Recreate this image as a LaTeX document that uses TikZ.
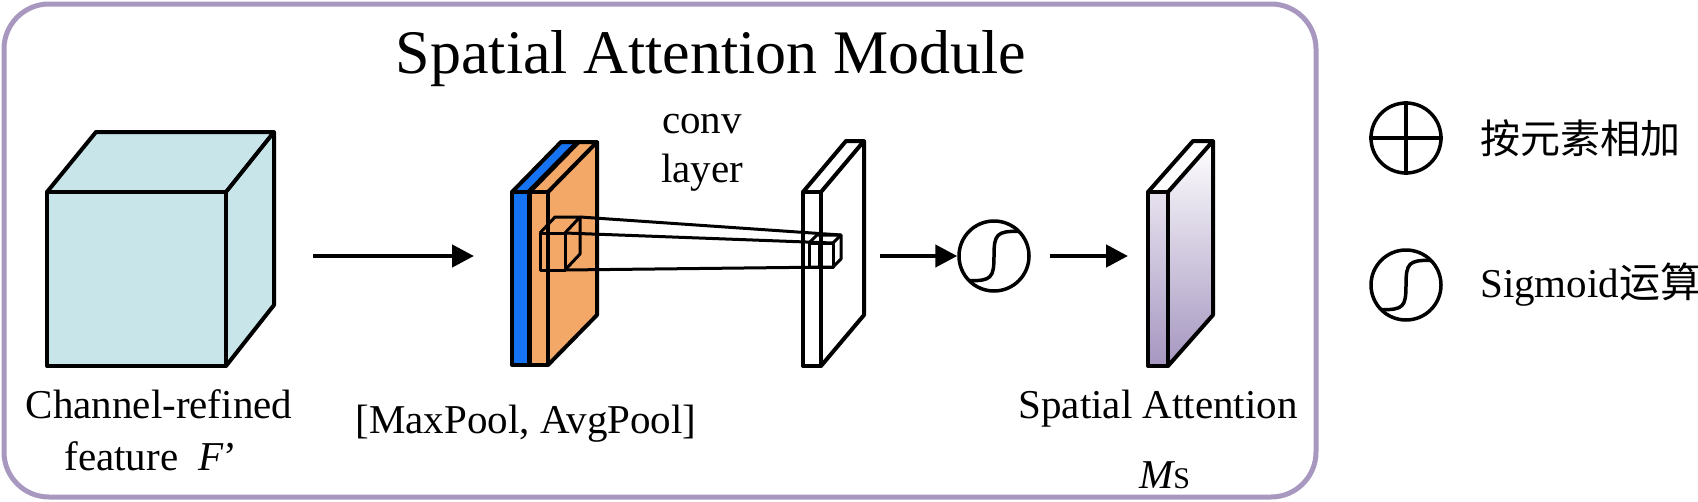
\documentclass[tikz,border=0pt]{standalone}
\usepackage{fontspec}
\setmainfont{Liberation Serif}
\newfontfamily\cjk{Noto Sans CJK SC}
\definecolor{cubefill}{HTML}{C8E6EA}
\definecolor{poolblue}{HTML}{1673F2}
\definecolor{poolorange}{HTML}{F3A867}
\definecolor{frame}{HTML}{A898C0}
\definecolor{attn}{HTML}{A596C0}
\definecolor{attnlight}{HTML}{D6CEE4}
\tikzset{
  edge/.style={line width=4pt, line join=round},
  thin3d/.style={line width=3pt, line join=round},
  flow/.style={line width=4.5pt, -{Triangle[length=22pt,width=22pt]}},
  lbl/.style={font=\fontsize{41}{46}\selectfont, inner sep=0pt},
  sig/.style={circle, draw, line width=3.5pt, minimum size=70pt, inner sep=0pt},
}
\usetikzlibrary{arrows.meta}
\begin{document}
\begin{tikzpicture}[x=1pt,y=-1pt]
\useasboundingbox (0,0) rectangle (1698,501);
% frame
\draw[frame, line width=5pt, rounded corners=45pt] (4,4) rectangle (1316,497);
\node[lbl, font=\fontsize{62}{66}\selectfont, anchor=base] (title) at (711,73) {Spatial Attention Module};
% cube
\fill[cubefill] (47,192) -- (96,132) -- (274,132) -- (274,305) -- (226,366) -- (47,366) -- cycle;
\draw[edge] (47,192) rectangle (226,366);
\draw[edge] (47,192) -- (96,132) -- (274,132) -- (226,192);
\draw[edge] (274,132) -- (274,305) -- (226,366);
\node[lbl, anchor=base] (cl1) at (159,418) {Channel-refined};
\node[lbl, anchor=base] (cl2) at (151,470) {feature\ \ {\itshape F}'};
% arrow 1
\coordinate (a1s) at (313,256); \coordinate (a1e) at (474,256);
\draw[flow] (a1s) -- (a1e);
% pooled slab
\fill[poolblue] (512,192) rectangle (528,365);
\fill[poolblue] (512,192) -- (561,142) -- (577,142) -- (528,192) -- cycle;
\fill[poolorange] (528,192) rectangle (548,365);
\fill[poolorange] (528,192) -- (577,142) -- (597,142) -- (597,315) -- (548,365) -- cycle;
\draw[edge] (512,192) rectangle (548,365);
\draw[line width=5pt] (529,192) -- (529,365);
\draw[line width=5pt] (529,192) -- (578,142);
\draw[edge] (512,192) -- (561,142) -- (597,142) -- (548,192);
\draw[edge] (597,142) -- (597,315) -- (548,365);
% conv plane
\fill[white] (803,192) -- (846,141) -- (864,141) -- (864,315) -- (821,366) -- (803,366) -- cycle;
\draw[edge] (803,192) rectangle (821,366);
\draw[edge] (803,192) -- (846,141) -- (864,141) -- (821,192);
\draw[edge] (864,141) -- (864,315) -- (821,366);
% small kernel cube on slab
\draw[thin3d] (540,233) rectangle (565,270);
\draw[thin3d] (540,233) -- (555,217) -- (580,217) -- (565,233);
\draw[thin3d] (580,217) -- (580,254) -- (565,270);
% small box on conv plane
\draw[thin3d] (809,243) rectangle (833,267);
\draw[thin3d] (809,243) -- (817,235) -- (841,235) -- (833,243);
\draw[thin3d] (841,235) -- (841,259) -- (833,267);
\draw[thin3d] (819,243) -- (819,267);
% projection lines
\draw[thin3d] (580,217) -- (841,235);
\draw[thin3d] (565,233) -- (833,243);
\draw[thin3d] (565,270) -- (833,267);
\node[lbl, anchor=base] (conv1) at (702,133) {conv};
\node[lbl, anchor=base] (conv2) at (702,182) {layer};
\node[lbl, anchor=base] (pool) at (526,433) {[MaxPool, AvgPool]};
% arrow 2, sigmoid
\node[sig] (sg) at (994,256) {};
\draw[line width=3.5pt] ([shift={(225:35pt)}]sg.center) .. controls +(22,0) and +(0,22) .. (sg.center) .. controls +(0,-22) and +(-22,0) .. ([shift={(45:35pt)}]sg.center);
\coordinate (a2s) at (880,256);
\draw[flow] (a2s) -- (sg.west);
\coordinate (a3e) at (1128,256);
\draw[flow] (sg.east) ++(19,0) coordinate (a3s) (a3s) -- (a3e);
% attention slab
\shade[top color=white, bottom color=attn] (1168,192) -- (1213,141) -- (1213,315) -- (1168,366) -- cycle;
\fill[white] (1148,192) -- (1193,141) -- (1213,141) -- (1168,192) -- cycle;
\shade[top color=attnlight!60, bottom color=attn] (1148,192) rectangle (1168,366);
\draw[edge] (1148,192) rectangle (1168,366);
\draw[edge] (1148,192) -- (1193,141) -- (1213,141) -- (1168,192);
\draw[edge] (1213,141) -- (1213,315) -- (1168,366);
\node[lbl, anchor=base] (sa) at (1158,418) {Spatial Attention};
\node[lbl, anchor=base west] (ms) at (1139,488) {{\itshape M}{\fontsize{30}{32}\selectfont S}};
% legend
\node[sig] (lp) at (1406,138) {};
\draw[line width=3.5pt] (lp.north) -- (lp.south) (lp.west) -- (lp.east);
\node[lbl, anchor=west, font=\cjk\fontsize{40}{44}\selectfont] (lpt) at (1480,138) {按元素相加};
\node[sig] (ls) at (1406,285) {};
\draw[line width=3.5pt] ([shift={(225:35pt)}]ls.center) .. controls +(22,0) and +(0,22) .. (ls.center) .. controls +(0,-22) and +(-22,0) .. ([shift={(45:35pt)}]ls.center);
\node[lbl, anchor=base west] (lst) at (1480,297) {Sigmoid{\cjk 运算}};
\end{tikzpicture}
\end{document}
